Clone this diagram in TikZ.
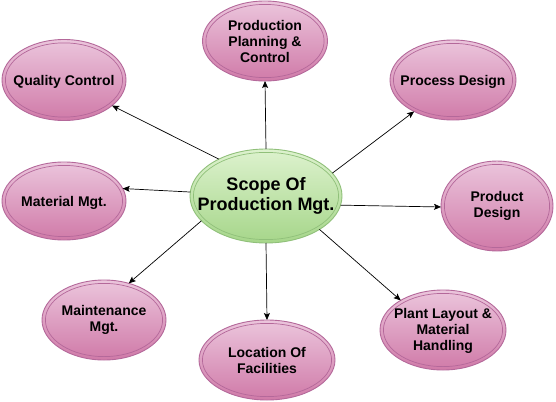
\documentclass[tikz,border=0pt]{standalone}
\usepackage{fontspec}
\setmainfont{Liberation Sans}
\usetikzlibrary{shapes.geometric,arrows.meta,calc}
\definecolor{pinkT}{HTML}{EBC5DC}
\definecolor{pinkB}{HTML}{D07AA8}
\definecolor{pinkE}{HTML}{B4689A}
\definecolor{grnT}{HTML}{DDF2CE}
\definecolor{grnB}{HTML}{A6D68A}
\definecolor{grnE}{HTML}{90C07A}
\tikzset{
  bub/.style={ellipse, draw=#1E, line width=0.9pt, top color=#1T, bottom color=#1B,
    inner sep=0pt, outer sep=0pt,
    path picture={\draw[#1E, line width=0.7pt]
      let \p1=($(path picture bounding box.north east)-(path picture bounding box.center)$) in
      (path picture bounding box.center) ellipse ({abs(\x1)-3.4pt} and {abs(\y1)-3.4pt});}},
  lbl/.style={font=\bfseries\fontsize{14}{16}\selectfont, align=center, inner sep=0pt},
  bigl/.style={font=\bfseries\fontsize{18}{20}\selectfont, align=center, inner sep=0pt},
  conn/.style={-{Stealth[length=7pt,width=6pt,inset=1.5pt]}, line width=0.7pt, black},
}
\begin{document}
\begin{tikzpicture}[x=1pt,y=-1pt]
\useasboundingbox (0,0) rectangle (556,401);
\fill[white] (0,0) rectangle (556,401);
% bubbles
\node[bub=pink, minimum width=124pt, minimum height=81pt] (qc) at (64,80) {};
\node[bub=pink, minimum width=125pt, minimum height=80pt] (ppc) at (265,41) {};
\node[bub=pink, minimum width=126pt, minimum height=80pt] (pd) at (453,80) {};
\node[bub=pink, minimum width=112pt, minimum height=90pt] (prd) at (497,206) {};
\node[bub=pink, minimum width=124pt, minimum height=78pt] (mat) at (64,201) {};
\node[bub=pink, minimum width=124pt, minimum height=80pt] (mnt) at (104,320) {};
\node[bub=pink, minimum width=136pt, minimum height=80pt] (loc) at (267,360) {};
\node[bub=pink, minimum width=126pt, minimum height=80pt] (pl) at (443,330) {};
\node[bub=grn, minimum width=152pt, minimum height=94pt] (c) at (266,196) {};
% texts
\node[lbl] (qct) at ([yshift=-2pt]qc.center) {Quality Control};
\node[lbl] (ppct) at (ppc) {Production\\Planning \&\\Control};
\node[lbl] (pdt) at ([yshift=-2pt]pd.center) {Process Design};
\node[lbl] (prdt) at (prd) {Product\\Design};
\node[lbl] (matt) at ([yshift=-2pt]mat.center) {Material Mgt.};
\node[lbl] (mntt) at (mnt) {Maintenance\\Mgt.};
\node[lbl] (loct) at (loc) {Location Of\\Facilities};
\node[lbl] (plt) at ([yshift=-1pt]pl.center) {Plant Layout \&\\Material\\Handling};
\node[bigl] (ct) at (c) {Scope Of\\Production Mgt.};
% connectors
\draw[conn] (c.142) -- (qc.-28);
\draw[conn] (c.north) -- (ppc.south);
\draw[conn] (c.19) -- (pd.219);
\draw[conn] (c.-7) -- (prd.181);
\draw[conn] (c.177) -- (mat.12);
\draw[conn] (c.201) -- (mnt.56);
\draw[conn] (c.south) -- (loc.north);
\draw[conn] (c.-32) -- (pl.145);
\end{tikzpicture}
\end{document}
